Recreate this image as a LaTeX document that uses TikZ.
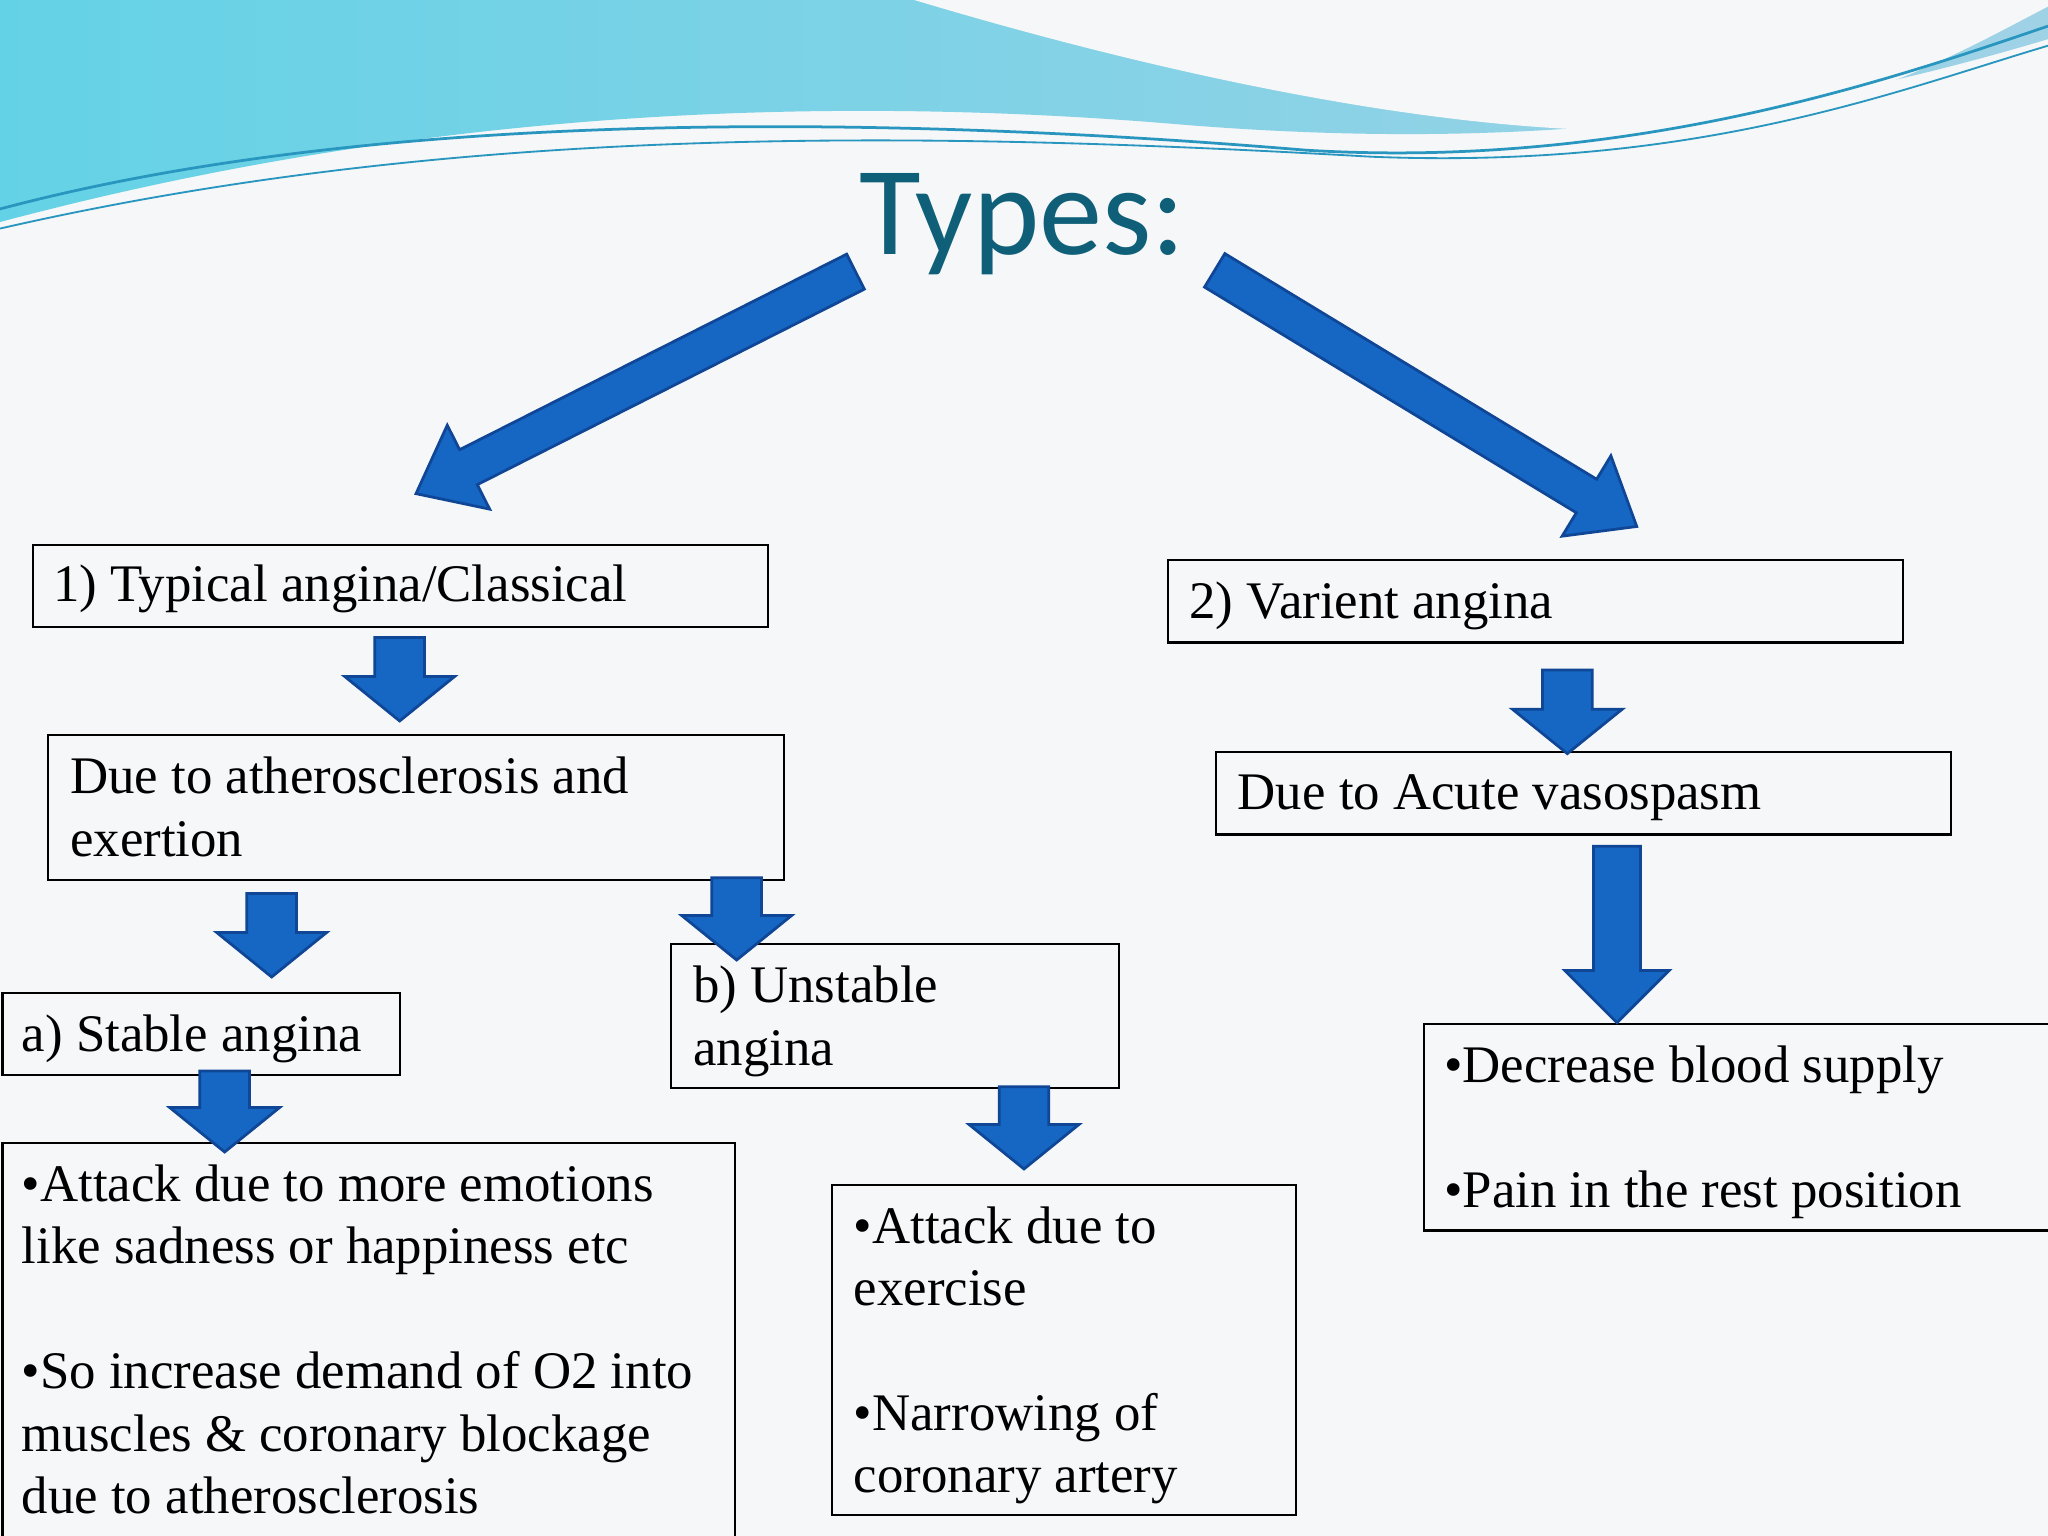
\documentclass[tikz,border=0pt]{standalone}
\usepackage{fontspec}
\setmainfont{Liberation Serif}
\newfontfamily\titlefont{Carlito}
\definecolor{bg}{RGB}{245,247,249}
\definecolor{skyA}{RGB}{100,210,230}
\definecolor{skyB}{RGB}{160,210,230}
\definecolor{wline}{RGB}{40,150,190}
\definecolor{ttl}{RGB}{15,95,120}
\definecolor{afill}{RGB}{22,102,196}
\definecolor{adraw}{RGB}{15,70,150}
\begin{document}
\begin{tikzpicture}[x=0.01cm,y=-0.01cm,
  box/.style={draw=black,line width=0.5pt},
  txt/.style={anchor=north west,align=left,inner sep=0pt,font=\fontsize{11.5}{13.6}\selectfont},
  arr/.style={fill=afill,draw=adraw,line width=0.6pt,line join=miter}]
\newcommand{\darrow}[3]{%
  \draw[arr] ({#1-19},#2)--({#1+19},#2)--({#1+19},{#3-34})--({#1+42},{#3-34})--(#1,#3)--({#1-42},{#3-34})--({#1-19},{#3-34})--cycle;}
\useasboundingbox (0,0) rectangle (1568,1176);
\fill[bg] (0,0) rectangle (1568,1176);
\shade[left color=skyA,right color=skyB]
  (0,0)--(0,170) .. controls (300,90) and (600,70) .. (900,95) .. controls (1200,120) and (1400,80) .. (1568,30)--(1568,0)--cycle;
\fill[bg] (700,0) .. controls (900,60) and (1100,100) .. (1250,100) .. controls (1400,100) and (1500,40) .. (1568,5)--(1568,0)--cycle;
\draw[wline,line width=0.6pt] (0,160) .. controls (300,80) and (700,90) .. (1000,115) .. controls (1250,130) and (1450,60) .. (1568,20);
\draw[wline,line width=0.4pt] (0,175) .. controls (350,95) and (700,100) .. (1050,120) .. controls (1300,130) and (1450,70) .. (1568,35);
\node[font=\titlefont\fontsize{27.5}{30}\selectfont,text=ttl] (title) at (783,172) {Types:};
\begin{scope}[shift={(655,208)},rotate=206.8]
\draw[arr] (0,-15)--(332,-15)--(332,-36)--(377,0)--(332,36)--(332,15)--(0,15)--cycle;
\end{scope}
\begin{scope}[shift={(930,207)},rotate=-31.25]
\draw[arr] (0,-15)--(333,-15)--(333,-36)--(378,0)--(333,36)--(333,15)--(0,15)--cycle;
\end{scope}
\draw[box] (25,417) rectangle (588,480);
\node[txt] (b1) at (40,432) {1) Typical angina/Classical};
\draw[box] (37,563) rectangle (600,674);
\node[txt] (b2) at (53,579) {Due to atherosclerosis and\\exertion};
\draw[box] (2,760) rectangle (306,823);
\node[txt] (b3) at (16,776) {a) Stable angina};
\draw[box] (514,723) rectangle (857,833);
\node[txt] (b4) at (530,739) {b) Unstable\\angina};
\draw[box] (2,875) rectangle (563,1180);
\node[txt] (b5) at (16,891) {•Attack due to more emotions\\like sadness or happiness etc\\[13.6pt]•So increase demand of O2 into\\muscles \& coronary blockage\\due to atherosclerosis};
\draw[box] (637,907) rectangle (992,1160);
\node[txt] (b6) at (653,923) {•Attack due to\\exercise\\[13.6pt]•Narrowing of\\coronary artery};
\draw[box] (894,429) rectangle (1457,492);
\node[txt] (b7) at (910,445) {2) Varient angina};
\draw[box] (931,576) rectangle (1494,639);
\node[txt] (b8) at (947,592) {Due to Acute vasospasm};
\draw[box] (1090,784) rectangle (1572,942);
\node[txt] (b9) at (1105,800) {•Decrease blood supply\\[13.6pt]•Pain in the rest position};
\darrow{306}{488}{552}
\darrow{208}{684}{748}
\darrow{564}{672}{735}
\darrow{172}{820}{882}
\darrow{784}{832}{895}
\darrow{1200}{513}{577}
\draw[arr] (1220,648)--(1256,648)--(1256,743)--(1278,743)--(1238,783)--(1198,743)--(1220,743)--cycle;
\end{tikzpicture}
\end{document}
